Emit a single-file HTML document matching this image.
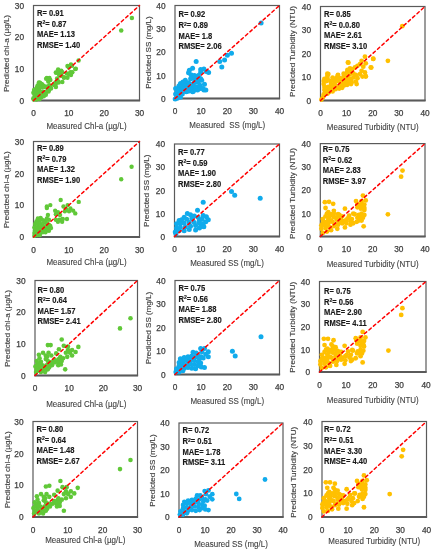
<!DOCTYPE html>
<html><head><meta charset="utf-8"><style>
html,body{margin:0;padding:0;background:#fff;}
svg{display:block;will-change:transform;}
text{font-family:"Liberation Sans",sans-serif;}
.tk{font-size:8.3px;fill:#404040;stroke:#404040;stroke-width:0.25px;}
.ti{font-size:8.6px;fill:#404040;stroke:#404040;stroke-width:0.1px;}
.yti{font-size:8.05px;fill:#404040;stroke:#404040;stroke-width:0.15px;}
.st{font-size:8.3px;font-weight:bold;fill:#1a1a1a;stroke:#1a1a1a;stroke-width:0.15px;}
.sup{font-size:5.6px;}
</style></head><body>
<svg width="433" height="550" viewBox="0 0 433 550">
<rect width="433" height="550" fill="#fff"/>
<rect x="33.5" y="5.5" width="106" height="95" fill="none" stroke="#5a5a5a" stroke-width="1.2"/>
<line x1="32.9" y1="100.5" x2="140.1" y2="100.5" stroke="#5a5a5a" stroke-width="1.8"/>
<g fill="#60c838"><circle cx="131.9" cy="18" r="2.25"/><circle cx="121.2" cy="30.5" r="2.25"/><circle cx="78.56" cy="60.4" r="2.25"/><circle cx="67.47" cy="65.94" r="2.25"/><circle cx="70.94" cy="64.55" r="2.25"/><circle cx="75.79" cy="68.71" r="2.25"/><circle cx="72.33" cy="72.18" r="2.25"/><circle cx="70.94" cy="74.95" r="2.25"/><circle cx="66.78" cy="73.56" r="2.25"/><circle cx="58.12" cy="69.4" r="2.25"/><circle cx="61.24" cy="70.79" r="2.25"/><circle cx="56.39" cy="72.87" r="2.25"/><circle cx="59.16" cy="74.95" r="2.25"/><circle cx="64.01" cy="77.72" r="2.25"/><circle cx="67.47" cy="77.72" r="2.25"/><circle cx="57.08" cy="78.41" r="2.25"/><circle cx="55.87" cy="72.39" r="2.25"/><circle cx="59.33" cy="73.77" r="2.25"/><circle cx="61.41" cy="75.85" r="2.25"/><circle cx="46.86" cy="77.93" r="2.25"/><circle cx="50.33" cy="80.01" r="2.25"/><circle cx="48.25" cy="81.4" r="2.25"/><circle cx="39.93" cy="82.78" r="2.25"/><circle cx="42.01" cy="84.17" r="2.25"/><circle cx="38.2" cy="85.21" r="2.25"/><circle cx="40.62" cy="86.59" r="2.25"/><circle cx="36.81" cy="87.63" r="2.25"/><circle cx="55.87" cy="83.47" r="2.25"/><circle cx="58.64" cy="82.43" r="2.25"/><circle cx="53.79" cy="84.86" r="2.25"/><circle cx="50.33" cy="86.94" r="2.25"/><circle cx="48.94" cy="89.71" r="2.25"/><circle cx="47.55" cy="91.1" r="2.25"/><circle cx="44.78" cy="93.18" r="2.25"/><circle cx="42.7" cy="91.79" r="2.25"/><circle cx="39.24" cy="91.1" r="2.25"/><circle cx="35.08" cy="89.71" r="2.25"/><circle cx="34.39" cy="93.18" r="2.25"/><circle cx="37.16" cy="93.87" r="2.25"/><circle cx="40.62" cy="94.56" r="2.25"/><circle cx="35.08" cy="97.33" r="2.25"/><circle cx="38.54" cy="98.03" r="2.25"/><circle cx="41.32" cy="97.33" r="2.25"/><circle cx="33.69" cy="99.41" r="2.25"/><circle cx="36.47" cy="99.41" r="2.25"/><circle cx="38.93" cy="82.4" r="2.25"/><circle cx="41.01" cy="83.78" r="2.25"/><circle cx="37.54" cy="85.86" r="2.25"/><circle cx="36.16" cy="89.33" r="2.25"/><circle cx="34.08" cy="90.02" r="2.25"/><circle cx="33.39" cy="92.79" r="2.25"/><circle cx="36.16" cy="92.79" r="2.25"/><circle cx="38.93" cy="90.02" r="2.25"/><circle cx="41.7" cy="87.25" r="2.25"/><circle cx="43.78" cy="85.86" r="2.25"/><circle cx="47.25" cy="86.55" r="2.25"/><circle cx="49.33" cy="89.33" r="2.25"/><circle cx="48.63" cy="91.4" r="2.25"/><circle cx="45.86" cy="92.1" r="2.25"/><circle cx="43.09" cy="93.48" r="2.25"/><circle cx="41.01" cy="95.56" r="2.25"/><circle cx="38.93" cy="96.95" r="2.25"/><circle cx="36.85" cy="98.33" r="2.25"/><circle cx="39.62" cy="99.03" r="2.25"/><circle cx="34.77" cy="95.56" r="2.25"/><circle cx="33.39" cy="98.33" r="2.25"/><circle cx="45.86" cy="94.87" r="2.25"/><circle cx="43.78" cy="96.26" r="2.25"/><circle cx="55.56" cy="82.4" r="2.25"/><circle cx="58.33" cy="81.7" r="2.25"/><circle cx="54.87" cy="85.17" r="2.25"/><circle cx="46.17" cy="78.8" r="2.25"/><circle cx="49.4" cy="77.99" r="2.25"/><circle cx="44.55" cy="86.88" r="2.25"/><circle cx="49.4" cy="85.26" r="2.25"/><circle cx="54.25" cy="83.65" r="2.25"/><circle cx="57.48" cy="80.41" r="2.25"/><circle cx="59.1" cy="70.71" r="2.25"/><circle cx="62.33" cy="72.33" r="2.25"/><circle cx="63.95" cy="77.18" r="2.25"/><circle cx="68.8" cy="73.95" r="2.25"/><circle cx="68.8" cy="67.48" r="2.25"/><circle cx="72.03" cy="65.86" r="2.25"/><circle cx="75.26" cy="69.1" r="2.25"/><circle cx="70.41" cy="72.33" r="2.25"/><circle cx="62.33" cy="82.03" r="2.25"/><circle cx="55.86" cy="86.88" r="2.25"/><circle cx="51.02" cy="88.5" r="2.25"/><circle cx="47.78" cy="90.11" r="2.25"/><circle cx="42.93" cy="91.73" r="2.25"/></g>
<line x1="33.5" y1="100.5" x2="139.5" y2="5.5" stroke="#ff0000" stroke-width="1.5" stroke-dasharray="2.9,3.0" stroke-linecap="round"/>
<text x="24" y="103.8" class="tk" text-anchor="end">0</text>
<text x="33.5" y="116.1" class="tk" text-anchor="middle">0</text>
<text x="24" y="72.13" class="tk" text-anchor="end">10</text>
<text x="68.83" y="116.1" class="tk" text-anchor="middle">10</text>
<text x="24" y="40.47" class="tk" text-anchor="end">20</text>
<text x="104.17" y="116.1" class="tk" text-anchor="middle">20</text>
<text x="24" y="8.8" class="tk" text-anchor="end">30</text>
<text x="139.5" y="116.1" class="tk" text-anchor="middle">30</text>
<text transform="translate(86.5,129) scale(0.93,1)" class="ti" text-anchor="middle">Measured Chl-a (µg/L)</text>
<text transform="translate(9.3,53.5) rotate(-90)" class="yti" text-anchor="middle">Predicted chl-a (µg/L)</text>
<text transform="translate(36.9,15.9) scale(0.916,1)" class="st">R= 0.91</text>
<text transform="translate(36.9,26.5) scale(0.916,1)" class="st">R<tspan class="sup" dy="-2.3">2</tspan><tspan dy="2.3">= 0.87</tspan></text>
<text transform="translate(36.9,37.1) scale(0.916,1)" class="st">MAE= 1.13</text>
<text transform="translate(36.9,47.7) scale(0.916,1)" class="st">RMSE= 1.40</text>
<rect x="175" y="5.5" width="104.5" height="93" fill="none" stroke="#5a5a5a" stroke-width="1.2"/>
<line x1="174.4" y1="98.5" x2="280.1" y2="98.5" stroke="#5a5a5a" stroke-width="1.8"/>
<g fill="#10abec"><circle cx="261.1" cy="23" r="2.5"/><circle cx="196.17" cy="61.48" r="2.5"/><circle cx="219.73" cy="61.48" r="2.5"/><circle cx="224.58" cy="60.09" r="2.5"/><circle cx="227.35" cy="55.24" r="2.5"/><circle cx="231.5" cy="53.16" r="2.5"/><circle cx="221.8" cy="67.02" r="2.5"/><circle cx="208.64" cy="72.56" r="2.5"/><circle cx="192.59" cy="68.23" r="2.5"/><circle cx="189.36" cy="70.25" r="2.5"/><circle cx="188.55" cy="72.68" r="2.5"/><circle cx="190.98" cy="74.7" r="2.5"/><circle cx="194.21" cy="75.51" r="2.5"/><circle cx="200.68" cy="69.45" r="2.5"/><circle cx="203.91" cy="69.04" r="2.5"/><circle cx="206.34" cy="71.47" r="2.5"/><circle cx="200.68" cy="72.28" r="2.5"/><circle cx="198.25" cy="75.51" r="2.5"/><circle cx="196.64" cy="77.93" r="2.5"/><circle cx="200.68" cy="78.74" r="2.5"/><circle cx="198.25" cy="81.98" r="2.5"/><circle cx="195.02" cy="79.55" r="2.5"/><circle cx="185.32" cy="80.36" r="2.5"/><circle cx="182.89" cy="81.98" r="2.5"/><circle cx="180.47" cy="83.59" r="2.5"/><circle cx="178.85" cy="86.02" r="2.5"/><circle cx="185.32" cy="84.4" r="2.5"/><circle cx="188.55" cy="82.78" r="2.5"/><circle cx="190.17" cy="85.21" r="2.5"/><circle cx="187.74" cy="87.64" r="2.5"/><circle cx="192.59" cy="86.83" r="2.5"/><circle cx="199.87" cy="85.21" r="2.5"/><circle cx="200.68" cy="88.44" r="2.5"/><circle cx="203.91" cy="90.06" r="2.5"/><circle cx="197.44" cy="89.25" r="2.5"/><circle cx="194.21" cy="89.25" r="2.5"/><circle cx="189.36" cy="90.87" r="2.5"/><circle cx="186.13" cy="91.68" r="2.5"/><circle cx="182.08" cy="89.25" r="2.5"/><circle cx="178.85" cy="89.25" r="2.5"/><circle cx="177.23" cy="91.68" r="2.5"/><circle cx="175.62" cy="88.44" r="2.5"/><circle cx="181.28" cy="93.29" r="2.5"/><circle cx="178.04" cy="94.91" r="2.5"/><circle cx="175.62" cy="94.1" r="2.5"/><circle cx="180.47" cy="97.34" r="2.5"/><circle cx="177.23" cy="98.14" r="2.5"/><circle cx="175.21" cy="98.95" r="2.5"/><circle cx="184.51" cy="88.44" r="2.5"/><circle cx="192.59" cy="91.68" r="2.5"/><circle cx="182.08" cy="86.02" r="2.5"/><circle cx="188.55" cy="89.25" r="2.5"/><circle cx="191.78" cy="77.93" r="2.5"/><circle cx="195.02" cy="81.98" r="2.5"/><circle cx="183.7" cy="83.59" r="2.5"/><circle cx="190.98" cy="89.25" r="2.5"/><circle cx="193.4" cy="83.59" r="2.5"/><circle cx="196.64" cy="86.83" r="2.5"/><circle cx="194.78" cy="76.03" r="2.5"/><circle cx="198.94" cy="77.41" r="2.5"/><circle cx="190.63" cy="78.8" r="2.5"/><circle cx="196.17" cy="81.57" r="2.5"/><circle cx="201.71" cy="80.18" r="2.5"/><circle cx="204.48" cy="84.34" r="2.5"/><circle cx="200.33" cy="87.11" r="2.5"/><circle cx="194.78" cy="87.11" r="2.5"/><circle cx="189.24" cy="84.34" r="2.5"/><circle cx="185.08" cy="85.73" r="2.5"/><circle cx="182.31" cy="88.5" r="2.5"/><circle cx="178.16" cy="89.88" r="2.5"/><circle cx="182.31" cy="94.04" r="2.5"/><circle cx="187.86" cy="91.27" r="2.5"/><circle cx="193.4" cy="91.27" r="2.5"/><circle cx="197.56" cy="89.88" r="2.5"/><circle cx="205.87" cy="89.88" r="2.5"/><circle cx="203.1" cy="88.5" r="2.5"/></g>
<line x1="175" y1="98.5" x2="279.5" y2="5.5" stroke="#ff0000" stroke-width="1.5" stroke-dasharray="2.9,3.0" stroke-linecap="round"/>
<text x="165.5" y="101.8" class="tk" text-anchor="end">0</text>
<text x="175" y="114.1" class="tk" text-anchor="middle">0</text>
<text x="165.5" y="78.55" class="tk" text-anchor="end">10</text>
<text x="201.12" y="114.1" class="tk" text-anchor="middle">10</text>
<text x="165.5" y="55.3" class="tk" text-anchor="end">20</text>
<text x="227.25" y="114.1" class="tk" text-anchor="middle">20</text>
<text x="165.5" y="32.05" class="tk" text-anchor="end">30</text>
<text x="253.38" y="114.1" class="tk" text-anchor="middle">30</text>
<text x="165.5" y="8.8" class="tk" text-anchor="end">40</text>
<text x="279.5" y="114.1" class="tk" text-anchor="middle">40</text>
<text transform="translate(227.25,127.5) scale(0.93,1)" class="ti" text-anchor="middle">Measured&#160; SS (mg/L)</text>
<text transform="translate(150.8,52.5) rotate(-90)" class="yti" text-anchor="middle">Predicted SS (mg/L)</text>
<text transform="translate(178.4,17.4) scale(0.916,1)" class="st">R= 0.92</text>
<text transform="translate(178.4,28) scale(0.916,1)" class="st">R<tspan class="sup" dy="-2.3">2</tspan><tspan dy="2.3">= 0.89</tspan></text>
<text transform="translate(178.4,38.6) scale(0.916,1)" class="st">MAE= 1.8</text>
<text transform="translate(178.4,49.2) scale(0.916,1)" class="st">RMSE= 2.06</text>
<rect x="320.5" y="6.5" width="104.5" height="94" fill="none" stroke="#5a5a5a" stroke-width="1.2"/>
<line x1="319.9" y1="100.5" x2="425.6" y2="100.5" stroke="#5a5a5a" stroke-width="1.8"/>
<g fill="#ffc000"><circle cx="402.3" cy="26.2" r="2.4"/><circle cx="387.9" cy="60.8" r="2.4"/><circle cx="373.2" cy="58.9" r="2.4"/><circle cx="371.3" cy="67.6" r="2.4"/><circle cx="348.4" cy="62.7" r="2.4"/><circle cx="328.3" cy="74.1" r="2.4"/><circle cx="338" cy="74.8" r="2.4"/><circle cx="365.7" cy="76.2" r="2.4"/><circle cx="327.39" cy="73.7" r="2.4"/><circle cx="327.39" cy="75.91" r="2.4"/><circle cx="337.74" cy="75.54" r="2.4"/><circle cx="343.65" cy="73.7" r="2.4"/><circle cx="347.35" cy="71.48" r="2.4"/><circle cx="350.3" cy="70.74" r="2.4"/><circle cx="324.43" cy="78.87" r="2.4"/><circle cx="327.39" cy="78.13" r="2.4"/><circle cx="332.56" cy="77.76" r="2.4"/><circle cx="336.26" cy="78.13" r="2.4"/><circle cx="339.96" cy="78.13" r="2.4"/><circle cx="343.65" cy="76.65" r="2.4"/><circle cx="346.61" cy="75.17" r="2.4"/><circle cx="323.7" cy="81.09" r="2.4"/><circle cx="326.65" cy="81.09" r="2.4"/><circle cx="330.35" cy="81.09" r="2.4"/><circle cx="334.04" cy="81.09" r="2.4"/><circle cx="337.74" cy="81.09" r="2.4"/><circle cx="341.43" cy="80.35" r="2.4"/><circle cx="345.13" cy="79.61" r="2.4"/><circle cx="348.82" cy="78.13" r="2.4"/><circle cx="323.7" cy="84.04" r="2.4"/><circle cx="331.09" cy="84.04" r="2.4"/><circle cx="334.78" cy="84.04" r="2.4"/><circle cx="340.69" cy="83.3" r="2.4"/><circle cx="344.39" cy="82.56" r="2.4"/><circle cx="348.09" cy="81.83" r="2.4"/><circle cx="351.04" cy="80.35" r="2.4"/><circle cx="324.43" cy="87" r="2.4"/><circle cx="328.13" cy="87" r="2.4"/><circle cx="331.83" cy="87" r="2.4"/><circle cx="335.52" cy="86.26" r="2.4"/><circle cx="339.96" cy="86.26" r="2.4"/><circle cx="343.65" cy="85.52" r="2.4"/><circle cx="347.35" cy="84.78" r="2.4"/><circle cx="351.04" cy="84.04" r="2.4"/><circle cx="324.43" cy="89.96" r="2.4"/><circle cx="328.13" cy="89.96" r="2.4"/><circle cx="331.83" cy="89.22" r="2.4"/><circle cx="335.52" cy="89.22" r="2.4"/><circle cx="339.22" cy="88.48" r="2.4"/><circle cx="342.17" cy="87.74" r="2.4"/><circle cx="325.17" cy="92.17" r="2.4"/><circle cx="328.87" cy="92.17" r="2.4"/><circle cx="332.56" cy="91.43" r="2.4"/><circle cx="323.7" cy="94.39" r="2.4"/><circle cx="327.39" cy="93.65" r="2.4"/><circle cx="321.48" cy="99.56" r="2.4"/><circle cx="322.96" cy="97.35" r="2.4"/><circle cx="347.91" cy="62.47" r="2.4"/><circle cx="364.95" cy="56.65" r="2.4"/><circle cx="373.26" cy="58.73" r="2.4"/><circle cx="370.77" cy="67.46" r="2.4"/><circle cx="365.78" cy="63.3" r="2.4"/><circle cx="361.63" cy="60.81" r="2.4"/><circle cx="359.96" cy="64.13" r="2.4"/><circle cx="363.29" cy="66.63" r="2.4"/><circle cx="357.47" cy="65.79" r="2.4"/><circle cx="354.98" cy="67.46" r="2.4"/><circle cx="352.48" cy="69.12" r="2.4"/><circle cx="361.63" cy="70.78" r="2.4"/><circle cx="364.95" cy="72.44" r="2.4"/><circle cx="359.96" cy="74.11" r="2.4"/><circle cx="365.78" cy="76.6" r="2.4"/><circle cx="362.46" cy="76.6" r="2.4"/><circle cx="347.49" cy="69.95" r="2.4"/><circle cx="349.99" cy="68.29" r="2.4"/><circle cx="346.66" cy="73.28" r="2.4"/><circle cx="349.99" cy="74.11" r="2.4"/><circle cx="353.31" cy="73.28" r="2.4"/><circle cx="355.81" cy="74.94" r="2.4"/><circle cx="353.31" cy="77.43" r="2.4"/><circle cx="357.47" cy="78.26" r="2.4"/><circle cx="355.81" cy="81.59" r="2.4"/><circle cx="349.99" cy="79.09" r="2.4"/><circle cx="346.66" cy="77.43" r="2.4"/><circle cx="347.49" cy="81.59" r="2.4"/><circle cx="351.65" cy="82.42" r="2.4"/><circle cx="356.64" cy="84.08" r="2.4"/><circle cx="345.83" cy="84.91" r="2.4"/></g>
<line x1="320.5" y1="100.5" x2="425" y2="6.5" stroke="#ff0000" stroke-width="1.5" stroke-dasharray="2.9,3.0" stroke-linecap="round"/>
<text x="311" y="103.8" class="tk" text-anchor="end">0</text>
<text x="320.5" y="116.1" class="tk" text-anchor="middle">0</text>
<text x="311" y="80.3" class="tk" text-anchor="end">10</text>
<text x="346.62" y="116.1" class="tk" text-anchor="middle">10</text>
<text x="311" y="56.8" class="tk" text-anchor="end">20</text>
<text x="372.75" y="116.1" class="tk" text-anchor="middle">20</text>
<text x="311" y="33.3" class="tk" text-anchor="end">30</text>
<text x="398.88" y="116.1" class="tk" text-anchor="middle">30</text>
<text x="311" y="9.8" class="tk" text-anchor="end">40</text>
<text x="425" y="116.1" class="tk" text-anchor="middle">40</text>
<text transform="translate(372.75,130.2) scale(0.93,1)" class="ti" text-anchor="middle">Measured Turbidity (NTU)</text>
<text transform="translate(295.3,51.5) rotate(-90)" class="yti" text-anchor="middle">Predicted Turbidity (NTU)</text>
<text transform="translate(323.9,16.9) scale(0.916,1)" class="st">R= 0.85</text>
<text transform="translate(323.9,27.5) scale(0.916,1)" class="st">R<tspan class="sup" dy="-2.3">2</tspan><tspan dy="2.3">= 0.0.80</tspan></text>
<text transform="translate(323.9,38.1) scale(0.916,1)" class="st">MAE= 2.61</text>
<text transform="translate(323.9,48.7) scale(0.916,1)" class="st">RMSE= 3.10</text>
<rect x="33.5" y="141.5" width="106" height="95.5" fill="none" stroke="#5a5a5a" stroke-width="1.2"/>
<line x1="32.9" y1="237" x2="140.1" y2="237" stroke="#5a5a5a" stroke-width="1.8"/>
<g fill="#60c838"><circle cx="121.2" cy="179.2" r="2.2"/><circle cx="131.6" cy="166.8" r="2.2"/><circle cx="60.71" cy="199.96" r="2.2"/><circle cx="78.73" cy="201.9" r="2.2"/><circle cx="46.86" cy="206.48" r="2.2"/><circle cx="50.32" cy="205.09" r="2.2"/><circle cx="63.48" cy="206.48" r="2.2"/><circle cx="67.64" cy="205.09" r="2.2"/><circle cx="66.25" cy="209.25" r="2.2"/><circle cx="70.41" cy="208.56" r="2.2"/><circle cx="73.18" cy="210.63" r="2.2"/><circle cx="75.26" cy="213.41" r="2.2"/><circle cx="64.87" cy="211.33" r="2.2"/><circle cx="69.03" cy="211.33" r="2.2"/><circle cx="66.95" cy="218.95" r="2.2"/><circle cx="62.79" cy="218.95" r="2.2"/><circle cx="46.86" cy="208" r="2.2"/><circle cx="55.18" cy="210.77" r="2.2"/><circle cx="57.95" cy="212.16" r="2.2"/><circle cx="55.87" cy="214.24" r="2.2"/><circle cx="60.03" cy="214.93" r="2.2"/><circle cx="47.9" cy="214.93" r="2.2"/><circle cx="46.86" cy="218.4" r="2.2"/><circle cx="48.94" cy="219.78" r="2.2"/><circle cx="37.85" cy="218.4" r="2.2"/><circle cx="40.62" cy="218.05" r="2.2"/><circle cx="42.01" cy="219.78" r="2.2"/><circle cx="39.24" cy="220.47" r="2.2"/><circle cx="36.47" cy="221.17" r="2.2"/><circle cx="45.47" cy="220.47" r="2.2"/><circle cx="44.09" cy="222.55" r="2.2"/><circle cx="46.86" cy="223.25" r="2.2"/><circle cx="55.87" cy="219.78" r="2.2"/><circle cx="59.33" cy="219.78" r="2.2"/><circle cx="62.11" cy="219.09" r="2.2"/><circle cx="57.95" cy="221.86" r="2.2"/><circle cx="62.11" cy="221.86" r="2.2"/><circle cx="35.08" cy="223.94" r="2.2"/><circle cx="37.85" cy="223.94" r="2.2"/><circle cx="40.62" cy="223.94" r="2.2"/><circle cx="42.7" cy="225.33" r="2.2"/><circle cx="50.33" cy="226.02" r="2.2"/><circle cx="51.02" cy="228.1" r="2.2"/><circle cx="47.55" cy="227.4" r="2.2"/><circle cx="48.94" cy="224.63" r="2.2"/><circle cx="34.39" cy="227.4" r="2.2"/><circle cx="37.16" cy="227.4" r="2.2"/><circle cx="39.93" cy="227.4" r="2.2"/><circle cx="43.4" cy="228.1" r="2.2"/><circle cx="45.47" cy="226.71" r="2.2"/><circle cx="35.08" cy="230.18" r="2.2"/><circle cx="37.85" cy="230.18" r="2.2"/><circle cx="40.62" cy="230.18" r="2.2"/><circle cx="43.4" cy="230.18" r="2.2"/><circle cx="46.17" cy="230.18" r="2.2"/><circle cx="48.94" cy="230.87" r="2.2"/><circle cx="34.39" cy="232.95" r="2.2"/><circle cx="37.16" cy="232.95" r="2.2"/><circle cx="39.93" cy="232.95" r="2.2"/><circle cx="42.7" cy="232.26" r="2.2"/><circle cx="45.47" cy="232.26" r="2.2"/><circle cx="34.39" cy="235.72" r="2.2"/><circle cx="37.16" cy="235.03" r="2.2"/><circle cx="39.93" cy="235.03" r="2.2"/></g>
<line x1="33.5" y1="237" x2="139.5" y2="141.5" stroke="#ff0000" stroke-width="1.5" stroke-dasharray="2.9,3.0" stroke-linecap="round"/>
<text x="24" y="240.3" class="tk" text-anchor="end">0</text>
<text x="33.5" y="252.6" class="tk" text-anchor="middle">0</text>
<text x="24" y="208.47" class="tk" text-anchor="end">10</text>
<text x="68.83" y="252.6" class="tk" text-anchor="middle">10</text>
<text x="24" y="176.63" class="tk" text-anchor="end">20</text>
<text x="104.17" y="252.6" class="tk" text-anchor="middle">20</text>
<text x="24" y="144.8" class="tk" text-anchor="end">30</text>
<text x="139.5" y="252.6" class="tk" text-anchor="middle">30</text>
<text transform="translate(86.5,265.3) scale(0.93,1)" class="ti" text-anchor="middle">Measured Chl-a (µg/L)</text>
<text transform="translate(9.3,189.75) rotate(-90)" class="yti" text-anchor="middle">Predicted chl-a (µg/L)</text>
<text transform="translate(36.9,151.1) scale(0.916,1)" class="st">R= 0.89</text>
<text transform="translate(36.9,161.7) scale(0.916,1)" class="st">R<tspan class="sup" dy="-2.3">2</tspan><tspan dy="2.3">= 0.79</tspan></text>
<text transform="translate(36.9,172.3) scale(0.916,1)" class="st">MAE= 1.32</text>
<text transform="translate(36.9,182.9) scale(0.916,1)" class="st">RMSE= 1.90</text>
<rect x="174.5" y="144" width="105" height="92.5" fill="none" stroke="#5a5a5a" stroke-width="1.2"/>
<line x1="173.9" y1="236.5" x2="280.1" y2="236.5" stroke="#5a5a5a" stroke-width="1.8"/>
<g fill="#10abec"><circle cx="231.5" cy="191.5" r="2.5"/><circle cx="234.7" cy="195.2" r="2.5"/><circle cx="260.2" cy="198.2" r="2.5"/><circle cx="203.21" cy="202.32" r="2.5"/><circle cx="197.5" cy="210.32" r="2.5"/><circle cx="187.34" cy="213.5" r="2.5"/><circle cx="190.51" cy="214.77" r="2.5"/><circle cx="194.32" cy="216.04" r="2.5"/><circle cx="184.16" cy="217.31" r="2.5"/><circle cx="186.7" cy="219.21" r="2.5"/><circle cx="191.78" cy="218.58" r="2.5"/><circle cx="198.13" cy="217.31" r="2.5"/><circle cx="203.21" cy="215.4" r="2.5"/><circle cx="206.39" cy="216.67" r="2.5"/><circle cx="208.29" cy="219.85" r="2.5"/><circle cx="205.75" cy="221.75" r="2.5"/><circle cx="201.94" cy="219.21" r="2.5"/><circle cx="199.4" cy="220.48" r="2.5"/><circle cx="179.08" cy="220.48" r="2.5"/><circle cx="181.62" cy="219.85" r="2.5"/><circle cx="176.54" cy="223.66" r="2.5"/><circle cx="180.35" cy="223.66" r="2.5"/><circle cx="184.16" cy="223.02" r="2.5"/><circle cx="189.24" cy="222.39" r="2.5"/><circle cx="194.32" cy="222.39" r="2.5"/><circle cx="199.4" cy="223.02" r="2.5"/><circle cx="203.21" cy="223.66" r="2.5"/><circle cx="176.54" cy="228.1" r="2.5"/><circle cx="180.35" cy="227.47" r="2.5"/><circle cx="185.43" cy="226.83" r="2.5"/><circle cx="190.51" cy="226.2" r="2.5"/><circle cx="195.59" cy="225.56" r="2.5"/><circle cx="200.67" cy="226.83" r="2.5"/><circle cx="203.85" cy="226.83" r="2.5"/><circle cx="175.27" cy="231.92" r="2.5"/><circle cx="179.08" cy="230.65" r="2.5"/><circle cx="184.16" cy="230.65" r="2.5"/><circle cx="189.24" cy="229.38" r="2.5"/><circle cx="195.59" cy="230.01" r="2.5"/><circle cx="199.4" cy="228.1" r="2.5"/><circle cx="175.91" cy="233.82" r="2.5"/></g>
<line x1="174.5" y1="236.5" x2="279.5" y2="144" stroke="#ff0000" stroke-width="1.5" stroke-dasharray="2.9,3.0" stroke-linecap="round"/>
<text x="165" y="239.8" class="tk" text-anchor="end">0</text>
<text x="174.5" y="252.1" class="tk" text-anchor="middle">0</text>
<text x="165" y="216.68" class="tk" text-anchor="end">10</text>
<text x="200.75" y="252.1" class="tk" text-anchor="middle">10</text>
<text x="165" y="193.55" class="tk" text-anchor="end">20</text>
<text x="227" y="252.1" class="tk" text-anchor="middle">20</text>
<text x="165" y="170.43" class="tk" text-anchor="end">30</text>
<text x="253.25" y="252.1" class="tk" text-anchor="middle">30</text>
<text x="165" y="147.3" class="tk" text-anchor="end">40</text>
<text x="279.5" y="252.1" class="tk" text-anchor="middle">40</text>
<text transform="translate(227,266.3) scale(0.93,1)" class="ti" text-anchor="middle">Measured SS (mg/L)</text>
<text transform="translate(149.3,190.75) rotate(-90)" class="yti" text-anchor="middle">Predicted SS (mg/L)</text>
<text transform="translate(177.9,154.9) scale(0.916,1)" class="st">R= 0.77</text>
<text transform="translate(177.9,165.5) scale(0.916,1)" class="st">R<tspan class="sup" dy="-2.3">2</tspan><tspan dy="2.3">= 0.59</tspan></text>
<text transform="translate(177.9,176.1) scale(0.916,1)" class="st">MAE= 1.90</text>
<text transform="translate(177.9,186.7) scale(0.916,1)" class="st">RMSE= 2.80</text>
<rect x="320.3" y="143.6" width="104.7" height="92.9" fill="none" stroke="#5a5a5a" stroke-width="1.2"/>
<line x1="319.7" y1="236.5" x2="425.6" y2="236.5" stroke="#5a5a5a" stroke-width="1.8"/>
<g fill="#ffc000"><circle cx="402.5" cy="170.6" r="2.4"/><circle cx="401.1" cy="176.7" r="2.4"/><circle cx="387.9" cy="214.3" r="2.4"/><circle cx="324.85" cy="202.19" r="2.4"/><circle cx="329.01" cy="201.78" r="2.4"/><circle cx="333.16" cy="203.86" r="2.4"/><circle cx="325.54" cy="208.01" r="2.4"/><circle cx="362.95" cy="195.54" r="2.4"/><circle cx="365.73" cy="200.39" r="2.4"/><circle cx="356.03" cy="201.08" r="2.4"/><circle cx="361.57" cy="203.16" r="2.4"/><circle cx="364.34" cy="204.55" r="2.4"/><circle cx="357.41" cy="207.32" r="2.4"/><circle cx="360.88" cy="208.71" r="2.4"/><circle cx="364.34" cy="210.09" r="2.4"/><circle cx="354.64" cy="214.25" r="2.4"/><circle cx="364.34" cy="214.94" r="2.4"/><circle cx="360.18" cy="217.02" r="2.4"/><circle cx="361.57" cy="220.48" r="2.4"/><circle cx="356.72" cy="221.87" r="2.4"/><circle cx="363.65" cy="226.3" r="2.4"/><circle cx="344.94" cy="208.71" r="2.4"/><circle cx="333.86" cy="210.78" r="2.4"/><circle cx="331.08" cy="214.25" r="2.4"/><circle cx="328.31" cy="212.17" r="2.4"/><circle cx="325.54" cy="216.33" r="2.4"/><circle cx="322.77" cy="219.1" r="2.4"/><circle cx="328.31" cy="219.1" r="2.4"/><circle cx="333.86" cy="217.02" r="2.4"/><circle cx="338.01" cy="214.25" r="2.4"/><circle cx="342.17" cy="216.33" r="2.4"/><circle cx="349.1" cy="215.63" r="2.4"/><circle cx="353.25" cy="213.56" r="2.4"/><circle cx="324.16" cy="224.64" r="2.4"/><circle cx="328.31" cy="223.25" r="2.4"/><circle cx="332.47" cy="221.87" r="2.4"/><circle cx="336.63" cy="219.79" r="2.4"/><circle cx="340.78" cy="219.79" r="2.4"/><circle cx="346.33" cy="219.79" r="2.4"/><circle cx="350.48" cy="221.18" r="2.4"/><circle cx="350.48" cy="224.64" r="2.4"/><circle cx="346.33" cy="223.25" r="2.4"/><circle cx="342.17" cy="223.25" r="2.4"/><circle cx="338.01" cy="224.64" r="2.4"/><circle cx="333.86" cy="226.03" r="2.4"/><circle cx="329.7" cy="227.41" r="2.4"/><circle cx="325.54" cy="228.1" r="2.4"/><circle cx="321.39" cy="228.8" r="2.4"/><circle cx="321.39" cy="225.33" r="2.4"/><circle cx="337.32" cy="228.8" r="2.4"/><circle cx="344.94" cy="227.41" r="2.4"/><circle cx="353.25" cy="223.25" r="2.4"/><circle cx="322.77" cy="232.95" r="2.4"/><circle cx="326.93" cy="231.57" r="2.4"/><circle cx="331.08" cy="230.18" r="2.4"/><circle cx="326.93" cy="213.56" r="2.4"/><circle cx="329.7" cy="216.33" r="2.4"/><circle cx="333.86" cy="213.56" r="2.4"/><circle cx="336.63" cy="217.71" r="2.4"/><circle cx="339.4" cy="214.94" r="2.4"/><circle cx="340.78" cy="217.71" r="2.4"/><circle cx="331.08" cy="220.48" r="2.4"/><circle cx="326.93" cy="221.87" r="2.4"/><circle cx="324.16" cy="221.87" r="2.4"/><circle cx="335.24" cy="224.64" r="2.4"/><circle cx="339.4" cy="222.56" r="2.4"/><circle cx="343.56" cy="221.18" r="2.4"/><circle cx="347.71" cy="218.41" r="2.4"/><circle cx="351.87" cy="219.1" r="2.4"/><circle cx="325.54" cy="226.03" r="2.4"/><circle cx="328.31" cy="226.03" r="2.4"/><circle cx="322.77" cy="223.25" r="2.4"/><circle cx="357.41" cy="203.86" r="2.4"/><circle cx="359.49" cy="205.24" r="2.4"/><circle cx="362.95" cy="206.63" r="2.4"/><circle cx="361.57" cy="213.56" r="2.4"/><circle cx="358.8" cy="214.94" r="2.4"/><circle cx="362.95" cy="217.71" r="2.4"/><circle cx="357.41" cy="217.71" r="2.4"/><circle cx="358.8" cy="220.48" r="2.4"/><circle cx="364.34" cy="208.01" r="2.4"/><circle cx="361.57" cy="201.08" r="2.4"/></g>
<line x1="320.3" y1="236.5" x2="425" y2="143.6" stroke="#ff0000" stroke-width="1.5" stroke-dasharray="2.9,3.0" stroke-linecap="round"/>
<text x="310.8" y="239.8" class="tk" text-anchor="end">0</text>
<text x="320.3" y="252.1" class="tk" text-anchor="middle">0</text>
<text x="310.8" y="216.58" class="tk" text-anchor="end">10</text>
<text x="346.48" y="252.1" class="tk" text-anchor="middle">10</text>
<text x="310.8" y="193.35" class="tk" text-anchor="end">20</text>
<text x="372.65" y="252.1" class="tk" text-anchor="middle">20</text>
<text x="310.8" y="170.12" class="tk" text-anchor="end">30</text>
<text x="398.82" y="252.1" class="tk" text-anchor="middle">30</text>
<text x="310.8" y="146.9" class="tk" text-anchor="end">40</text>
<text x="425" y="252.1" class="tk" text-anchor="middle">40</text>
<text transform="translate(372.65,266.9) scale(0.93,1)" class="ti" text-anchor="middle">Measured Turbidity (NTU)</text>
<text transform="translate(294.7,193.55) rotate(-90)" class="yti" text-anchor="middle">Predicted Turbidity (NTU)</text>
<text transform="translate(322.7,152) scale(0.916,1)" class="st">R= 0.75</text>
<text transform="translate(322.7,162.6) scale(0.916,1)" class="st">R<tspan class="sup" dy="-2.3">2</tspan><tspan dy="2.3">= 0.62</tspan></text>
<text transform="translate(322.7,173.2) scale(0.916,1)" class="st">MAE= 2.83</text>
<text transform="translate(322.7,183.8) scale(0.916,1)" class="st">RMSE= 3.97</text>
<rect x="35" y="280.5" width="102.5" height="95" fill="none" stroke="#5a5a5a" stroke-width="1.2"/>
<line x1="34.4" y1="375.5" x2="138.1" y2="375.5" stroke="#5a5a5a" stroke-width="1.8"/>
<g fill="#60c838"><circle cx="130.5" cy="318.3" r="2.3"/><circle cx="120" cy="328.4" r="2.3"/><circle cx="61.71" cy="339.55" r="2.3"/><circle cx="47.86" cy="345.09" r="2.3"/><circle cx="50.63" cy="345.09" r="2.3"/><circle cx="78.34" cy="346.89" r="2.3"/><circle cx="63.79" cy="345.78" r="2.3"/><circle cx="67.95" cy="346.48" r="2.3"/><circle cx="58.94" cy="349.25" r="2.3"/><circle cx="56.17" cy="353.41" r="2.3"/><circle cx="67.95" cy="349.94" r="2.3"/><circle cx="72.1" cy="349.94" r="2.3"/><circle cx="75.57" cy="352.02" r="2.3"/><circle cx="72.1" cy="355.48" r="2.3"/><circle cx="67.25" cy="356.87" r="2.3"/><circle cx="63.1" cy="358.25" r="2.3"/><circle cx="58.94" cy="358.95" r="2.3"/><circle cx="54.78" cy="359.64" r="2.3"/><circle cx="58.25" cy="362.41" r="2.3"/><circle cx="61.02" cy="364.49" r="2.3"/><circle cx="58.25" cy="365.18" r="2.3"/><circle cx="65.18" cy="369.34" r="2.3"/><circle cx="43.01" cy="352.71" r="2.3"/><circle cx="48.55" cy="352.71" r="2.3"/><circle cx="38.85" cy="354.79" r="2.3"/><circle cx="47.16" cy="356.87" r="2.3"/><circle cx="51.32" cy="355.48" r="2.3"/><circle cx="45.78" cy="358.95" r="2.3"/><circle cx="50.63" cy="362.41" r="2.3"/><circle cx="47.86" cy="365.18" r="2.3"/><circle cx="52.01" cy="365.18" r="2.3"/><circle cx="39.54" cy="358.25" r="2.3"/><circle cx="36.77" cy="361.03" r="2.3"/><circle cx="40.93" cy="361.72" r="2.3"/><circle cx="38.16" cy="363.8" r="2.3"/><circle cx="42.31" cy="365.18" r="2.3"/><circle cx="35.39" cy="366.57" r="2.3"/><circle cx="39.54" cy="367.26" r="2.3"/><circle cx="44.39" cy="367.95" r="2.3"/><circle cx="36.77" cy="369.34" r="2.3"/><circle cx="41.62" cy="370.03" r="2.3"/><circle cx="46.47" cy="369.34" r="2.3"/><circle cx="36.08" cy="372.11" r="2.3"/><circle cx="40.93" cy="372.11" r="2.3"/><circle cx="49.24" cy="367.26" r="2.3"/><circle cx="36.77" cy="365.18" r="2.3"/><circle cx="40.24" cy="363.8" r="2.3"/><circle cx="43.7" cy="366.57" r="2.3"/><circle cx="46.47" cy="365.18" r="2.3"/><circle cx="49.24" cy="363.8" r="2.3"/><circle cx="52.01" cy="362.41" r="2.3"/><circle cx="42.31" cy="370.73" r="2.3"/><circle cx="38.16" cy="370.73" r="2.3"/><circle cx="45.08" cy="372.11" r="2.3"/><circle cx="47.86" cy="369.34" r="2.3"/><circle cx="54.78" cy="362.41" r="2.3"/><circle cx="57.56" cy="361.03" r="2.3"/><circle cx="61.71" cy="361.03" r="2.3"/><circle cx="60.33" cy="356.87" r="2.3"/><circle cx="65.87" cy="352.71" r="2.3"/><circle cx="70.03" cy="352.71" r="2.3"/><circle cx="47.86" cy="361.03" r="2.3"/><circle cx="45.78" cy="355.48" r="2.3"/></g>
<line x1="35" y1="375.5" x2="137.5" y2="280.5" stroke="#ff0000" stroke-width="1.5" stroke-dasharray="2.9,3.0" stroke-linecap="round"/>
<text x="25.5" y="378.8" class="tk" text-anchor="end">0</text>
<text x="35" y="391.1" class="tk" text-anchor="middle">0</text>
<text x="25.5" y="347.13" class="tk" text-anchor="end">10</text>
<text x="69.17" y="391.1" class="tk" text-anchor="middle">10</text>
<text x="25.5" y="315.47" class="tk" text-anchor="end">20</text>
<text x="103.33" y="391.1" class="tk" text-anchor="middle">20</text>
<text x="25.5" y="283.8" class="tk" text-anchor="end">30</text>
<text x="137.5" y="391.1" class="tk" text-anchor="middle">30</text>
<text transform="translate(86.25,406.5) scale(0.93,1)" class="ti" text-anchor="middle">Measured Chl-a (µg/L)</text>
<text transform="translate(10,328.5) rotate(-90)" class="yti" text-anchor="middle">Predicted chl-a (µg/L)</text>
<text transform="translate(37.4,292.6) scale(0.916,1)" class="st">R= 0.80</text>
<text transform="translate(37.4,303.2) scale(0.916,1)" class="st">R<tspan class="sup" dy="-2.3">2</tspan><tspan dy="2.3">= 0.64</tspan></text>
<text transform="translate(37.4,313.8) scale(0.916,1)" class="st">MAE= 1.57</text>
<text transform="translate(37.4,324.4) scale(0.916,1)" class="st">RMSE= 2.41</text>
<rect x="175" y="280.5" width="104.5" height="94" fill="none" stroke="#5a5a5a" stroke-width="1.2"/>
<line x1="174.4" y1="374.5" x2="280.1" y2="374.5" stroke="#5a5a5a" stroke-width="1.8"/>
<g fill="#10abec"><circle cx="261" cy="336.8" r="2.5"/><circle cx="232.4" cy="351.3" r="2.5"/><circle cx="235.2" cy="355.9" r="2.5"/><circle cx="200.67" cy="348.5" r="2.5"/><circle cx="204.48" cy="348.5" r="2.5"/><circle cx="208.29" cy="351.67" r="2.5"/><circle cx="208.29" cy="356.75" r="2.5"/><circle cx="205.75" cy="354.21" r="2.5"/><circle cx="201.94" cy="351.67" r="2.5"/><circle cx="193.05" cy="352.31" r="2.5"/><circle cx="196.23" cy="352.94" r="2.5"/><circle cx="198.13" cy="355.48" r="2.5"/><circle cx="201.31" cy="356.75" r="2.5"/><circle cx="180.35" cy="358.66" r="2.5"/><circle cx="184.16" cy="357.39" r="2.5"/><circle cx="187.97" cy="356.75" r="2.5"/><circle cx="191.78" cy="356.12" r="2.5"/><circle cx="195.59" cy="356.75" r="2.5"/><circle cx="199.4" cy="358.66" r="2.5"/><circle cx="203.21" cy="358.02" r="2.5"/><circle cx="179.08" cy="362.47" r="2.5"/><circle cx="182.89" cy="361.2" r="2.5"/><circle cx="186.7" cy="360.56" r="2.5"/><circle cx="190.51" cy="359.93" r="2.5"/><circle cx="194.32" cy="360.56" r="2.5"/><circle cx="198.13" cy="361.83" r="2.5"/><circle cx="200.67" cy="363.1" r="2.5"/><circle cx="179.08" cy="365.65" r="2.5"/><circle cx="182.89" cy="365.01" r="2.5"/><circle cx="186.7" cy="364.38" r="2.5"/><circle cx="190.51" cy="363.74" r="2.5"/><circle cx="194.32" cy="364.38" r="2.5"/><circle cx="198.13" cy="365.65" r="2.5"/><circle cx="201.31" cy="366.92" r="2.5"/><circle cx="204.48" cy="367.55" r="2.5"/><circle cx="176.54" cy="368.82" r="2.5"/><circle cx="180.35" cy="368.82" r="2.5"/><circle cx="184.16" cy="368.19" r="2.5"/><circle cx="187.97" cy="367.55" r="2.5"/><circle cx="191.78" cy="368.19" r="2.5"/><circle cx="195.59" cy="368.82" r="2.5"/><circle cx="175.91" cy="372" r="2.5"/><circle cx="179.08" cy="372" r="2.5"/><circle cx="182.89" cy="370.73" r="2.5"/></g>
<line x1="175" y1="374.5" x2="279.5" y2="280.5" stroke="#ff0000" stroke-width="1.5" stroke-dasharray="2.9,3.0" stroke-linecap="round"/>
<text x="165.5" y="377.8" class="tk" text-anchor="end">0</text>
<text x="175" y="390.1" class="tk" text-anchor="middle">0</text>
<text x="165.5" y="354.3" class="tk" text-anchor="end">10</text>
<text x="201.12" y="390.1" class="tk" text-anchor="middle">10</text>
<text x="165.5" y="330.8" class="tk" text-anchor="end">20</text>
<text x="227.25" y="390.1" class="tk" text-anchor="middle">20</text>
<text x="165.5" y="307.3" class="tk" text-anchor="end">30</text>
<text x="253.38" y="390.1" class="tk" text-anchor="middle">30</text>
<text x="165.5" y="283.8" class="tk" text-anchor="end">40</text>
<text x="279.5" y="390.1" class="tk" text-anchor="middle">40</text>
<text transform="translate(227.25,404.1) scale(0.93,1)" class="ti" text-anchor="middle">Measured SS (mg/L)</text>
<text transform="translate(150.8,328) rotate(-90)" class="yti" text-anchor="middle">Predicted SS (mg/L)</text>
<text transform="translate(178.4,290.9) scale(0.916,1)" class="st">R= 0.75</text>
<text transform="translate(178.4,301.5) scale(0.916,1)" class="st">R<tspan class="sup" dy="-2.3">2</tspan><tspan dy="2.3">= 0.56</tspan></text>
<text transform="translate(178.4,312.1) scale(0.916,1)" class="st">MAE= 1.88</text>
<text transform="translate(178.4,322.7) scale(0.916,1)" class="st">RMSE= 2.80</text>
<rect x="319.5" y="281.5" width="106.5" height="90.5" fill="none" stroke="#5a5a5a" stroke-width="1.2"/>
<line x1="318.9" y1="372" x2="426.6" y2="372" stroke="#5a5a5a" stroke-width="1.8"/>
<g fill="#ffc000"><circle cx="402.4" cy="308.2" r="2.4"/><circle cx="401.2" cy="314.9" r="2.4"/><circle cx="388.4" cy="350.6" r="2.4"/><circle cx="323.85" cy="338.86" r="2.4"/><circle cx="328.01" cy="338.86" r="2.4"/><circle cx="333.55" cy="340.24" r="2.4"/><circle cx="324.54" cy="345.09" r="2.4"/><circle cx="362.65" cy="331.93" r="2.4"/><circle cx="365.42" cy="337.47" r="2.4"/><circle cx="355.72" cy="338.16" r="2.4"/><circle cx="360.57" cy="340.24" r="2.4"/><circle cx="364.03" cy="340.93" r="2.4"/><circle cx="357.1" cy="343.71" r="2.4"/><circle cx="360.57" cy="345.78" r="2.4"/><circle cx="364.03" cy="346.48" r="2.4"/><circle cx="352.95" cy="350.63" r="2.4"/><circle cx="363.34" cy="350.63" r="2.4"/><circle cx="359.88" cy="353.41" r="2.4"/><circle cx="360.57" cy="356.18" r="2.4"/><circle cx="355.72" cy="358.25" r="2.4"/><circle cx="362.65" cy="362.41" r="2.4"/><circle cx="344.63" cy="345.78" r="2.4"/><circle cx="332.86" cy="346.48" r="2.4"/><circle cx="330.08" cy="349.94" r="2.4"/><circle cx="327.31" cy="348.56" r="2.4"/><circle cx="324.54" cy="352.02" r="2.4"/><circle cx="321.77" cy="354.79" r="2.4"/><circle cx="327.31" cy="354.79" r="2.4"/><circle cx="332.86" cy="352.71" r="2.4"/><circle cx="337.01" cy="350.63" r="2.4"/><circle cx="341.17" cy="352.02" r="2.4"/><circle cx="348.1" cy="351.33" r="2.4"/><circle cx="352.25" cy="349.94" r="2.4"/><circle cx="323.16" cy="360.33" r="2.4"/><circle cx="327.31" cy="358.95" r="2.4"/><circle cx="331.47" cy="357.56" r="2.4"/><circle cx="335.63" cy="356.18" r="2.4"/><circle cx="339.78" cy="356.18" r="2.4"/><circle cx="345.33" cy="356.18" r="2.4"/><circle cx="349.48" cy="357.56" r="2.4"/><circle cx="350.87" cy="361.03" r="2.4"/><circle cx="345.33" cy="360.33" r="2.4"/><circle cx="341.17" cy="359.64" r="2.4"/><circle cx="337.01" cy="361.03" r="2.4"/><circle cx="332.86" cy="361.72" r="2.4"/><circle cx="328.7" cy="363.1" r="2.4"/><circle cx="324.54" cy="363.8" r="2.4"/><circle cx="320.39" cy="364.49" r="2.4"/><circle cx="320.39" cy="361.03" r="2.4"/><circle cx="336.32" cy="364.91" r="2.4"/><circle cx="344.63" cy="363.8" r="2.4"/><circle cx="352.25" cy="359.64" r="2.4"/><circle cx="321.77" cy="367.95" r="2.4"/><circle cx="325.93" cy="367.26" r="2.4"/><circle cx="330.08" cy="365.88" r="2.4"/><circle cx="325.93" cy="349.94" r="2.4"/><circle cx="328.7" cy="352.71" r="2.4"/><circle cx="332.86" cy="349.94" r="2.4"/><circle cx="335.63" cy="354.1" r="2.4"/><circle cx="338.4" cy="351.33" r="2.4"/><circle cx="339.78" cy="354.1" r="2.4"/><circle cx="330.08" cy="356.87" r="2.4"/><circle cx="325.93" cy="358.25" r="2.4"/><circle cx="323.16" cy="357.56" r="2.4"/><circle cx="334.24" cy="360.33" r="2.4"/><circle cx="338.4" cy="358.95" r="2.4"/><circle cx="342.56" cy="357.56" r="2.4"/><circle cx="346.71" cy="354.79" r="2.4"/><circle cx="350.87" cy="354.79" r="2.4"/><circle cx="324.54" cy="361.72" r="2.4"/><circle cx="327.31" cy="361.72" r="2.4"/><circle cx="321.77" cy="358.95" r="2.4"/><circle cx="356.41" cy="340.24" r="2.4"/><circle cx="358.49" cy="341.63" r="2.4"/><circle cx="361.95" cy="343.01" r="2.4"/><circle cx="360.57" cy="349.94" r="2.4"/><circle cx="357.8" cy="351.33" r="2.4"/><circle cx="361.95" cy="353.41" r="2.4"/><circle cx="357.1" cy="353.41" r="2.4"/><circle cx="363.34" cy="344.4" r="2.4"/><circle cx="360.57" cy="337.47" r="2.4"/><circle cx="331.47" cy="344.4" r="2.4"/><circle cx="335.63" cy="347.17" r="2.4"/></g>
<line x1="319.5" y1="372" x2="426" y2="281.5" stroke="#ff0000" stroke-width="1.5" stroke-dasharray="2.9,3.0" stroke-linecap="round"/>
<text x="310" y="375.3" class="tk" text-anchor="end">0</text>
<text x="319.5" y="387.6" class="tk" text-anchor="middle">0</text>
<text x="310" y="352.68" class="tk" text-anchor="end">10</text>
<text x="346.12" y="387.6" class="tk" text-anchor="middle">10</text>
<text x="310" y="330.05" class="tk" text-anchor="end">20</text>
<text x="372.75" y="387.6" class="tk" text-anchor="middle">20</text>
<text x="310" y="307.43" class="tk" text-anchor="end">30</text>
<text x="399.38" y="387.6" class="tk" text-anchor="middle">30</text>
<text x="310" y="284.8" class="tk" text-anchor="end">40</text>
<text x="426" y="387.6" class="tk" text-anchor="middle">40</text>
<text transform="translate(372.75,402.5) scale(0.93,1)" class="ti" text-anchor="middle">Measured Turbidity (NTU)</text>
<text transform="translate(295.3,327.25) rotate(-90)" class="yti" text-anchor="middle">Predicted Turbidity (NTU)</text>
<text transform="translate(323.9,293.9) scale(0.916,1)" class="st">R= 0.75</text>
<text transform="translate(323.9,304.5) scale(0.916,1)" class="st">R<tspan class="sup" dy="-2.3">2</tspan><tspan dy="2.3">= 0.56</tspan></text>
<text transform="translate(323.9,315.1) scale(0.916,1)" class="st">MAE= 2.90</text>
<text transform="translate(323.9,325.7) scale(0.916,1)" class="st">RMSE= 4.11</text>
<rect x="33" y="421.5" width="104.5" height="95.5" fill="none" stroke="#5a5a5a" stroke-width="1.2"/>
<line x1="32.4" y1="517" x2="138.1" y2="517" stroke="#5a5a5a" stroke-width="1.8"/>
<g fill="#60c838"><circle cx="130.5" cy="460" r="2.3"/><circle cx="120" cy="469.1" r="2.3"/><circle cx="60.41" cy="480.93" r="2.3"/><circle cx="45.86" cy="486.48" r="2.3"/><circle cx="49.32" cy="485.78" r="2.3"/><circle cx="77.73" cy="487.86" r="2.3"/><circle cx="62.48" cy="487.17" r="2.3"/><circle cx="66.64" cy="487.17" r="2.3"/><circle cx="57.63" cy="490.63" r="2.3"/><circle cx="54.17" cy="494.79" r="2.3"/><circle cx="65.95" cy="491.33" r="2.3"/><circle cx="70.8" cy="491.33" r="2.3"/><circle cx="74.26" cy="493.41" r="2.3"/><circle cx="70.8" cy="496.87" r="2.3"/><circle cx="65.95" cy="498.25" r="2.3"/><circle cx="61.79" cy="499.64" r="2.3"/><circle cx="57.63" cy="500.33" r="2.3"/><circle cx="54.17" cy="501.03" r="2.3"/><circle cx="56.94" cy="503.8" r="2.3"/><circle cx="59.71" cy="505.88" r="2.3"/><circle cx="56.94" cy="506.57" r="2.3"/><circle cx="63.87" cy="510.73" r="2.3"/><circle cx="41.01" cy="494.1" r="2.3"/><circle cx="46.55" cy="494.1" r="2.3"/><circle cx="36.85" cy="496.18" r="2.3"/><circle cx="45.16" cy="498.25" r="2.3"/><circle cx="49.32" cy="496.87" r="2.3"/><circle cx="43.78" cy="500.33" r="2.3"/><circle cx="48.63" cy="503.8" r="2.3"/><circle cx="45.86" cy="506.57" r="2.3"/><circle cx="50.01" cy="506.57" r="2.3"/><circle cx="37.54" cy="499.64" r="2.3"/><circle cx="34.77" cy="502.41" r="2.3"/><circle cx="38.93" cy="503.1" r="2.3"/><circle cx="36.16" cy="505.18" r="2.3"/><circle cx="40.31" cy="506.57" r="2.3"/><circle cx="33.39" cy="507.95" r="2.3"/><circle cx="37.54" cy="508.65" r="2.3"/><circle cx="42.39" cy="509.34" r="2.3"/><circle cx="34.77" cy="510.73" r="2.3"/><circle cx="39.62" cy="511.42" r="2.3"/><circle cx="44.47" cy="510.73" r="2.3"/><circle cx="34.08" cy="513.5" r="2.3"/><circle cx="38.93" cy="513.5" r="2.3"/><circle cx="47.24" cy="508.65" r="2.3"/><circle cx="34.77" cy="506.57" r="2.3"/><circle cx="38.24" cy="505.18" r="2.3"/><circle cx="41.7" cy="507.95" r="2.3"/><circle cx="44.47" cy="506.57" r="2.3"/><circle cx="47.24" cy="505.18" r="2.3"/><circle cx="50.01" cy="503.8" r="2.3"/><circle cx="40.31" cy="512.11" r="2.3"/><circle cx="36.16" cy="512.11" r="2.3"/><circle cx="43.08" cy="513.5" r="2.3"/><circle cx="45.86" cy="510.73" r="2.3"/><circle cx="52.78" cy="503.8" r="2.3"/><circle cx="55.56" cy="502.41" r="2.3"/><circle cx="59.71" cy="502.41" r="2.3"/><circle cx="58.33" cy="498.25" r="2.3"/><circle cx="63.87" cy="494.1" r="2.3"/><circle cx="68.03" cy="494.1" r="2.3"/><circle cx="45.86" cy="502.41" r="2.3"/><circle cx="43.78" cy="496.87" r="2.3"/></g>
<line x1="33" y1="517" x2="137.5" y2="421.5" stroke="#ff0000" stroke-width="1.5" stroke-dasharray="2.9,3.0" stroke-linecap="round"/>
<text x="23.5" y="520.3" class="tk" text-anchor="end">0</text>
<text x="33" y="532.6" class="tk" text-anchor="middle">0</text>
<text x="23.5" y="488.47" class="tk" text-anchor="end">10</text>
<text x="67.83" y="532.6" class="tk" text-anchor="middle">10</text>
<text x="23.5" y="456.63" class="tk" text-anchor="end">20</text>
<text x="102.67" y="532.6" class="tk" text-anchor="middle">20</text>
<text x="23.5" y="424.8" class="tk" text-anchor="end">30</text>
<text x="137.5" y="532.6" class="tk" text-anchor="middle">30</text>
<text transform="translate(85.25,543) scale(0.93,1)" class="ti" text-anchor="middle">Measured Chl-a (µg/L)</text>
<text transform="translate(9.8,469.75) rotate(-90)" class="yti" text-anchor="middle">Predicted chl-a (µg/L)</text>
<text transform="translate(36.4,431.9) scale(0.916,1)" class="st">R= 0.80</text>
<text transform="translate(36.4,442.5) scale(0.916,1)" class="st">R<tspan class="sup" dy="-2.3">2</tspan><tspan dy="2.3">= 0.64</tspan></text>
<text transform="translate(36.4,453.1) scale(0.916,1)" class="st">MAE= 1.48</text>
<text transform="translate(36.4,463.7) scale(0.916,1)" class="st">RMSE= 2.67</text>
<rect x="179" y="423" width="104" height="94" fill="none" stroke="#5a5a5a" stroke-width="1.2"/>
<line x1="178.4" y1="517" x2="283.6" y2="517" stroke="#5a5a5a" stroke-width="1.8"/>
<g fill="#10abec"><circle cx="265" cy="479.5" r="2.4"/><circle cx="236.3" cy="494" r="2.4"/><circle cx="239.2" cy="498.9" r="2.4"/><circle cx="204.67" cy="491.04" r="2.4"/><circle cx="208.48" cy="490.4" r="2.4"/><circle cx="212.29" cy="494.21" r="2.4"/><circle cx="212.29" cy="499.29" r="2.4"/><circle cx="209.75" cy="496.75" r="2.4"/><circle cx="205.94" cy="494.21" r="2.4"/><circle cx="197.05" cy="495.48" r="2.4"/><circle cx="200.23" cy="495.48" r="2.4"/><circle cx="202.13" cy="498.02" r="2.4"/><circle cx="205.31" cy="499.29" r="2.4"/><circle cx="184.35" cy="501.83" r="2.4"/><circle cx="188.16" cy="500.56" r="2.4"/><circle cx="191.97" cy="499.93" r="2.4"/><circle cx="195.78" cy="498.66" r="2.4"/><circle cx="199.59" cy="499.29" r="2.4"/><circle cx="203.4" cy="501.2" r="2.4"/><circle cx="207.21" cy="500.56" r="2.4"/><circle cx="183.08" cy="505.01" r="2.4"/><circle cx="186.89" cy="503.74" r="2.4"/><circle cx="190.7" cy="503.1" r="2.4"/><circle cx="194.51" cy="502.47" r="2.4"/><circle cx="198.32" cy="503.1" r="2.4"/><circle cx="202.13" cy="504.38" r="2.4"/><circle cx="204.67" cy="505.65" r="2.4"/><circle cx="183.08" cy="508.19" r="2.4"/><circle cx="186.89" cy="507.55" r="2.4"/><circle cx="190.7" cy="506.92" r="2.4"/><circle cx="194.51" cy="506.28" r="2.4"/><circle cx="198.32" cy="506.92" r="2.4"/><circle cx="202.13" cy="508.19" r="2.4"/><circle cx="205.31" cy="509.46" r="2.4"/><circle cx="208.48" cy="510.09" r="2.4"/><circle cx="180.54" cy="511.36" r="2.4"/><circle cx="184.35" cy="511.36" r="2.4"/><circle cx="188.16" cy="510.73" r="2.4"/><circle cx="191.97" cy="510.09" r="2.4"/><circle cx="195.78" cy="510.73" r="2.4"/><circle cx="199.59" cy="510.09" r="2.4"/><circle cx="179.91" cy="514.54" r="2.4"/><circle cx="183.08" cy="514.54" r="2.4"/><circle cx="186.89" cy="513.27" r="2.4"/></g>
<line x1="179" y1="517" x2="283" y2="423" stroke="#ff0000" stroke-width="1.5" stroke-dasharray="2.9,3.0" stroke-linecap="round"/>
<text x="169.5" y="520.3" class="tk" text-anchor="end">0</text>
<text x="179" y="532.6" class="tk" text-anchor="middle">0</text>
<text x="169.5" y="496.8" class="tk" text-anchor="end">10</text>
<text x="205" y="532.6" class="tk" text-anchor="middle">10</text>
<text x="169.5" y="473.3" class="tk" text-anchor="end">20</text>
<text x="231" y="532.6" class="tk" text-anchor="middle">20</text>
<text x="169.5" y="449.8" class="tk" text-anchor="end">30</text>
<text x="257" y="532.6" class="tk" text-anchor="middle">30</text>
<text x="169.5" y="426.3" class="tk" text-anchor="end">40</text>
<text x="283" y="532.6" class="tk" text-anchor="middle">40</text>
<text transform="translate(231,546.5) scale(0.93,1)" class="ti" text-anchor="middle">Measured SS (mg/L)</text>
<text transform="translate(154.8,470.5) rotate(-90)" class="yti" text-anchor="middle">Predicted SS (mg/L)</text>
<text transform="translate(182.4,433.4) scale(0.916,1)" class="st">R= 0.72</text>
<text transform="translate(182.4,444) scale(0.916,1)" class="st">R<tspan class="sup" dy="-2.3">2</tspan><tspan dy="2.3">= 0.51</tspan></text>
<text transform="translate(182.4,454.6) scale(0.916,1)" class="st">MAE= 1.78</text>
<text transform="translate(182.4,465.2) scale(0.916,1)" class="st">RMSE= 3.11</text>
<rect x="322" y="421.5" width="104.5" height="95.5" fill="none" stroke="#5a5a5a" stroke-width="1.2"/>
<line x1="321.4" y1="517" x2="427.1" y2="517" stroke="#5a5a5a" stroke-width="1.8"/>
<g fill="#ffc000"><circle cx="403.1" cy="449.8" r="2.4"/><circle cx="401.7" cy="456.3" r="2.4"/><circle cx="389.7" cy="494.1" r="2.4"/><circle cx="325.85" cy="482.32" r="2.4"/><circle cx="330.01" cy="482.32" r="2.4"/><circle cx="334.86" cy="483.71" r="2.4"/><circle cx="327.24" cy="487.86" r="2.4"/><circle cx="363.95" cy="475.39" r="2.4"/><circle cx="366.73" cy="480.24" r="2.4"/><circle cx="357.03" cy="480.93" r="2.4"/><circle cx="361.88" cy="483.01" r="2.4"/><circle cx="365.34" cy="484.4" r="2.4"/><circle cx="358.41" cy="487.17" r="2.4"/><circle cx="361.88" cy="489.25" r="2.4"/><circle cx="365.34" cy="489.94" r="2.4"/><circle cx="354.95" cy="493.41" r="2.4"/><circle cx="365.34" cy="494.1" r="2.4"/><circle cx="361.88" cy="496.18" r="2.4"/><circle cx="362.57" cy="498.95" r="2.4"/><circle cx="357.72" cy="501.03" r="2.4"/><circle cx="363.95" cy="507.26" r="2.4"/><circle cx="346.63" cy="489.25" r="2.4"/><circle cx="334.86" cy="489.94" r="2.4"/><circle cx="332.08" cy="493.41" r="2.4"/><circle cx="329.31" cy="492.02" r="2.4"/><circle cx="326.54" cy="495.48" r="2.4"/><circle cx="323.77" cy="498.25" r="2.4"/><circle cx="329.31" cy="498.25" r="2.4"/><circle cx="334.86" cy="496.18" r="2.4"/><circle cx="339.01" cy="494.1" r="2.4"/><circle cx="343.17" cy="495.48" r="2.4"/><circle cx="350.1" cy="494.79" r="2.4"/><circle cx="354.25" cy="493.41" r="2.4"/><circle cx="325.16" cy="503.8" r="2.4"/><circle cx="329.31" cy="502.41" r="2.4"/><circle cx="333.47" cy="501.03" r="2.4"/><circle cx="337.63" cy="499.64" r="2.4"/><circle cx="341.78" cy="499.64" r="2.4"/><circle cx="347.33" cy="499.64" r="2.4"/><circle cx="351.48" cy="501.03" r="2.4"/><circle cx="352.18" cy="505.18" r="2.4"/><circle cx="347.33" cy="503.8" r="2.4"/><circle cx="343.17" cy="503.1" r="2.4"/><circle cx="339.01" cy="504.49" r="2.4"/><circle cx="334.86" cy="505.18" r="2.4"/><circle cx="330.7" cy="506.57" r="2.4"/><circle cx="326.54" cy="507.26" r="2.4"/><circle cx="322.39" cy="507.95" r="2.4"/><circle cx="322.39" cy="504.49" r="2.4"/><circle cx="338.32" cy="508.65" r="2.4"/><circle cx="346.63" cy="508.65" r="2.4"/><circle cx="354.25" cy="503.1" r="2.4"/><circle cx="323.77" cy="511.42" r="2.4"/><circle cx="327.93" cy="510.73" r="2.4"/><circle cx="332.08" cy="509.34" r="2.4"/><circle cx="327.93" cy="493.41" r="2.4"/><circle cx="330.7" cy="496.18" r="2.4"/><circle cx="334.86" cy="493.41" r="2.4"/><circle cx="337.63" cy="497.56" r="2.4"/><circle cx="340.4" cy="494.79" r="2.4"/><circle cx="341.78" cy="497.56" r="2.4"/><circle cx="332.08" cy="500.33" r="2.4"/><circle cx="327.93" cy="501.72" r="2.4"/><circle cx="325.16" cy="501.03" r="2.4"/><circle cx="336.24" cy="503.8" r="2.4"/><circle cx="340.4" cy="502.41" r="2.4"/><circle cx="344.56" cy="501.03" r="2.4"/><circle cx="348.71" cy="498.25" r="2.4"/><circle cx="352.87" cy="498.25" r="2.4"/><circle cx="326.54" cy="505.18" r="2.4"/><circle cx="329.31" cy="505.18" r="2.4"/><circle cx="323.77" cy="502.41" r="2.4"/><circle cx="358.41" cy="483.71" r="2.4"/><circle cx="360.49" cy="485.09" r="2.4"/><circle cx="363.95" cy="486.48" r="2.4"/><circle cx="362.57" cy="493.41" r="2.4"/><circle cx="359.8" cy="494.79" r="2.4"/><circle cx="363.95" cy="496.87" r="2.4"/><circle cx="359.1" cy="496.87" r="2.4"/><circle cx="365.34" cy="487.86" r="2.4"/><circle cx="362.57" cy="480.93" r="2.4"/><circle cx="333.47" cy="487.86" r="2.4"/><circle cx="337.63" cy="490.63" r="2.4"/></g>
<line x1="322" y1="517" x2="426.5" y2="421.5" stroke="#ff0000" stroke-width="1.5" stroke-dasharray="2.9,3.0" stroke-linecap="round"/>
<text x="312.5" y="520.3" class="tk" text-anchor="end">0</text>
<text x="322" y="532.6" class="tk" text-anchor="middle">0</text>
<text x="312.5" y="496.43" class="tk" text-anchor="end">10</text>
<text x="348.12" y="532.6" class="tk" text-anchor="middle">10</text>
<text x="312.5" y="472.55" class="tk" text-anchor="end">20</text>
<text x="374.25" y="532.6" class="tk" text-anchor="middle">20</text>
<text x="312.5" y="448.68" class="tk" text-anchor="end">30</text>
<text x="400.38" y="532.6" class="tk" text-anchor="middle">30</text>
<text x="312.5" y="424.8" class="tk" text-anchor="end">40</text>
<text x="426.5" y="532.6" class="tk" text-anchor="middle">40</text>
<text transform="translate(374.25,544) scale(0.93,1)" class="ti" text-anchor="middle">Measured Turbidity (NTU)</text>
<text transform="translate(296.3,472.25) rotate(-90)" class="yti" text-anchor="middle">Predicted Turbidity (NTU)</text>
<text transform="translate(324,432.4) scale(0.916,1)" class="st">R= 0.72</text>
<text transform="translate(324,443) scale(0.916,1)" class="st">R<tspan class="sup" dy="-2.3">2</tspan><tspan dy="2.3">= 0.51</tspan></text>
<text transform="translate(324,453.6) scale(0.916,1)" class="st">MAE= 3.30</text>
<text transform="translate(324,464.2) scale(0.916,1)" class="st">RMSE= 4.40</text>
</svg>
</body></html>
